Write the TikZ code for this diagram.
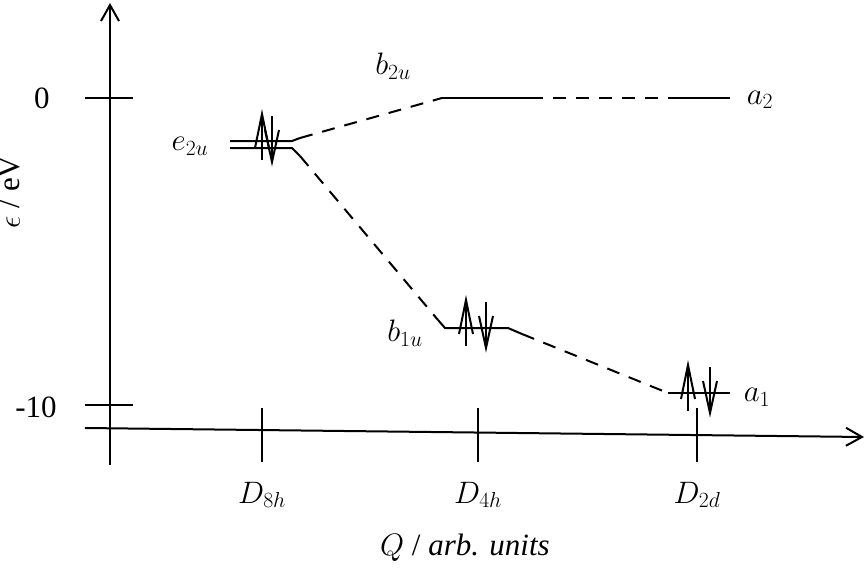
\RequirePackage{fix-cm}
\documentclass[tikz,border=0pt]{standalone}
\usepackage{fontspec}
\setmainfont{Liberation Serif}
\usetikzlibrary{arrows.meta}
\begin{document}
\begin{tikzpicture}[x=1pt,y=-1pt,line width=2pt,
  dsh/.style={dash pattern=on 13pt off 10pt},
  lab/.style={font=\fontsize{31}{36}\selectfont},
  up/.pic={\draw (0,22)--(0,-24); \draw (-7,10)--(0,-24)--(7,10);},
  dn/.pic={\draw (0,-24)--(0,22); \draw (-7,-10)--(0,22)--(7,-10);}]
\useasboundingbox (0,0) rectangle (868,570);
% axes
\coordinate (ya) at (110,465); \coordinate (yb) at (110,3);
\coordinate (xa) at (85,428); \coordinate (xb) at (864,437);
\draw[-{Straight Barb[length=16pt,width=18pt]}] (ya)--(yb);
\draw[-{Straight Barb[length=16pt,width=18pt]}] (xa)--(xb);
\draw (85,98)--(133,98); \draw (85,405)--(133,405);
\node[lab] (t0) at (42,98) {0};
\node[lab] (t10) at (36,407) {-10};
\node[lab,rotate=90] (yl) at (10,192) {$\epsilon$ / eV};
\foreach \x/\n in {262/8h,478/4h,697/2d}{\draw (\x,408)--(\x,462); \node[lab] at (\x,495) {$D_{\n}$};}
\node[lab] (xl) at (465,548) {$Q$ / \itshape arb. units};
% levels
\coordinate (e1a) at (230,141); \coordinate (e1b) at (292,141);
\coordinate (e2a) at (230,148); \coordinate (e2b) at (292,148);
\draw (e1a)--(e1b)--(300,138); \draw (e2a)--(e2b)--(300,156);
\coordinate (b2a) at (442,98); \coordinate (b2b) at (530,98);
\coordinate (a2a) at (680,98); \coordinate (a2b) at (730,98);
\draw (b2a)--(b2b); \draw[dsh] (b2b)--(a2a); \draw (a2a)--(a2b);
\draw[dsh] (300,138)--(b2a);
\coordinate (b1a) at (445,328); \coordinate (b1b) at (508,328);
\draw (438,320)--(b1a)--(b1b)--(522,334);
\draw[dsh] (300,156)--(438,320);
\draw[dsh] (522,334)--(668,393);
\coordinate (a1a) at (668,393); \coordinate (a1b) at (730,393);
\draw (a1a)--(a1b);
% labels
\node[lab] at (190,146) {$e_{2u}$};
\node[lab] at (393,66) {$b_{2u}$};
\node[lab] at (760,100) {$a_{2}$};
\node[lab] at (405,333) {$b_{1u}$};
\node[lab] at (757,397) {$a_{1}$};
% electrons
\pic at (262,138) {up}; \pic at (272,140) {dn};
\pic at (466,324) {up}; \pic at (486,326) {dn};
\pic at (688,389) {up}; \pic at (710,391) {dn};
\end{tikzpicture}
\end{document}
